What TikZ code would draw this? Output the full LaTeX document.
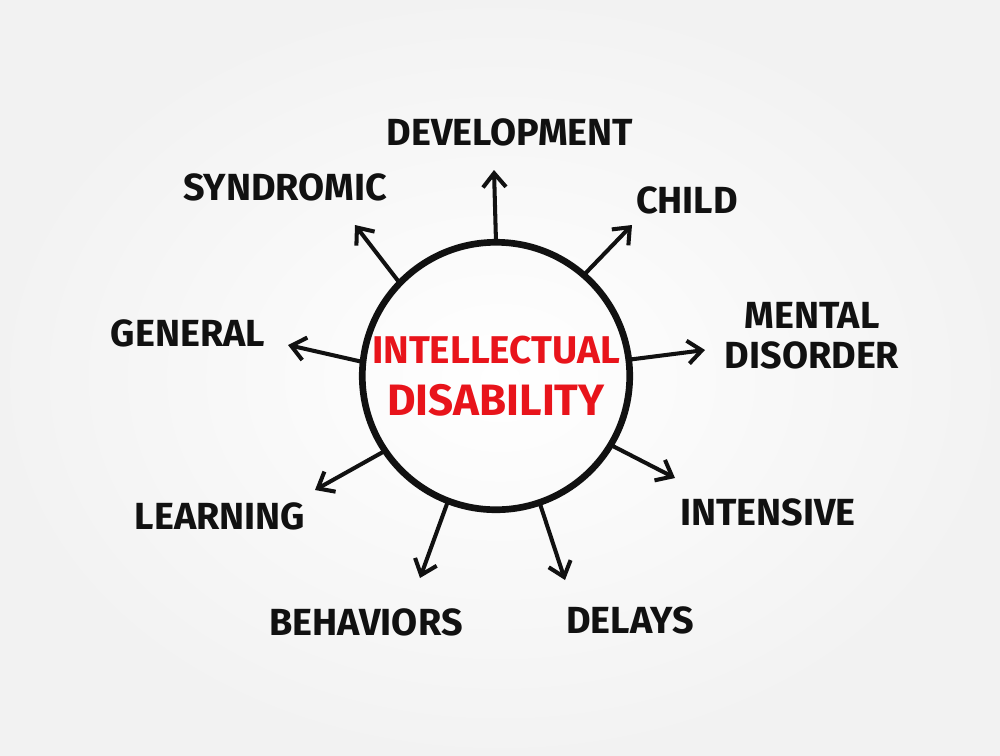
\documentclass[tikz,border=0pt]{standalone}
\usepackage{fontspec}
\setmainfont{Fira Sans}
\usepackage{tikz}
\usetikzlibrary{arrows.meta}
\definecolor{markerred}{HTML}{E8141B}
\definecolor{ink}{HTML}{111111}

\begin{document}
\begin{tikzpicture}[x=0.02cm,y=-0.02cm,
  word/.style={text=ink,font=\fontsize{21.5}{23}\selectfont\bfseries,align=center,inner sep=0pt},
  arrow/.style={draw=ink,line width=2.3pt,line cap=round,-{Straight Barb[length=0.28cm,width=0.46cm]}}]
\shade[inner color=white,outer color=black!5] (0,0) rectangle (1000,755);
\useasboundingbox (0,0) rectangle (1000,755);
\node[shape=circle,draw=ink,line width=3.8pt,inner sep=0pt,outer sep=0pt,minimum size=5.35cm,text=markerred,font=\fontsize{22}{30}\selectfont\bfseries,align=center] (id) at (496,376) {INTELLECTUAL\\{\fontsize{25}{30}\selectfont DISABILITY}};
\node[word] (dev) at (510,132) {DEVELOPMENT};
\node[word] (child) at (687,200) {CHILD};
\node[word] (mental) at (812,336) {MENTAL\\DISORDER};
\node[word] (int) at (768,512) {INTENSIVE};
\node[word] (del) at (630,620) {DELAYS};
\node[word] (beh) at (366,622) {BEHAVIORS};
\node[word] (learn) at (220,516) {LEARNING};
\node[word] (gen) at (188,333) {GENERAL};
\node[word] (syn) at (285,187) {SYNDROMIC};
\coordinate (devtip) at (494,170);
\coordinate (childtip) at (632,225);
\coordinate (mentaltip) at (705,350);
\coordinate (inttip) at (675,478);
\coordinate (deltip) at (565,580);
\coordinate (behtip) at (420,578);
\coordinate (learntip) at (315,490);
\coordinate (gentip) at (288,345);
\coordinate (syntip) at (355,225);
\path (id.90) edge[arrow] (devtip);
\path (id.49) edge[arrow] (childtip);
\path (id.7) edge[arrow] (mentaltip);
\path (id.-31) edge[arrow] (inttip);
\path (id.-71) edge[arrow] (deltip);
\path (id.-111) edge[arrow] (behtip);
\path (id.-146) edge[arrow] (learntip);
\path (id.174) edge[arrow] (gentip);
\path (id.136) edge[arrow] (syntip);
\end{tikzpicture}
\end{document}
